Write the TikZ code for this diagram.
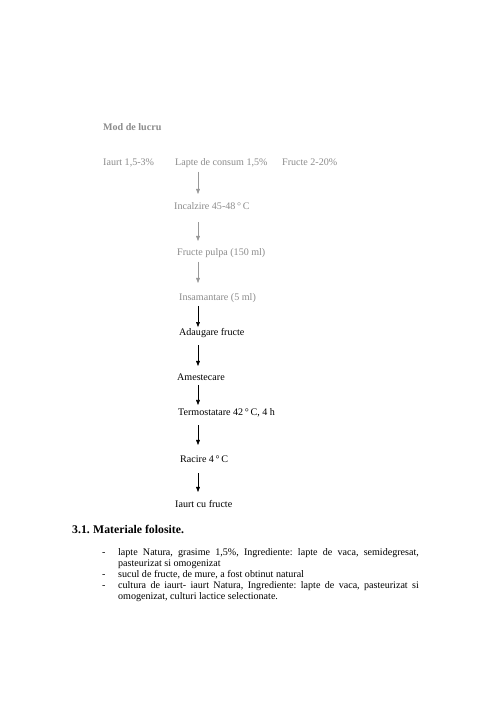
\documentclass[tikz,border=0pt]{standalone}
\usepackage{fontspec}
\setmainfont{Liberation Serif}
\usetikzlibrary{arrows.meta}
\frenchspacing
\begin{document}
\begin{tikzpicture}[x=1.1906pt,y=-1.1906pt,
  txt/.style={anchor=west,inner sep=0pt,text height=9pt,text depth=3pt,font=\fontsize{12}{14}\selectfont},
  blur/.style={txt,text=black!45},
  headfont/.style={font=\bfseries\fontsize{14}{16}\selectfont},
  arr/.style={line width=0.7pt,-{Triangle[length=6pt,width=4.5pt]}},
  blurarr/.style={arr,draw=black!40,fill=black!40},
  bullet/.style={txt}]
\useasboundingbox[fill=white] (0,0) rectangle (500,707);
\coordinate (axis) at (198,0);
% blurred upper part
\node[blur,font=\bfseries\fontsize{12}{14}\selectfont] (mod) at (103,128) {Mod de lucru};
\node[blur] (iaurt) at (103,163) {Iaurt 1,5-3\%};
\node[blur] (lapte) at (175,163) {Lapte de consum 1,5\%};
\node[blur] (fructe) at (282,163) {Fructe 2-20\%};
\node[blur] (incalz) at (174,207) {Incalzire 45-48\,°\,C};
\node[blur] (pulpa) at (177,253) {Fructe pulpa (150 ml)};
\node[blur] (insam) at (179,298) {Insamantare (5 ml)};
% clear lower part
\node[txt] (adaug) at (179,333) {Adaugare fructe};
\node[txt] (amest) at (177,378) {Amestecare};
\node[txt] (termo) at (178,413) {Termostatare 42\,°\,C, 4 h};
\node[txt] (racire) at (180,460) {Racire 4\,°\,C};
\node[txt] (final) at (175,505) {Iaurt cu fructe};
% arrows
\draw[blurarr,shorten <=10.7pt,shorten >=15.5pt] (lapte.center -| axis) -- (incalz.center -| axis);
\draw[blurarr,shorten <=17.9pt,shorten >=14.3pt] (incalz.center -| axis) -- (pulpa.center -| axis);
\draw[blurarr,shorten <=10.7pt,shorten >=17.9pt] (pulpa.center -| axis) -- (insam.center -| axis);
\draw[arr,shorten <=9.5pt,shorten >=7.1pt] (insam.center -| axis) -- (adaug.center -| axis);
\draw[arr,shorten <=14.3pt,shorten >=14.3pt] (adaug.center -| axis) -- (amest.center -| axis);
\draw[arr,shorten <=8.3pt,shorten >=9.5pt] (amest.center -| axis) -- (termo.center -| axis);
\draw[arr,shorten <=14.3pt,shorten >=17.9pt] (termo.center -| axis) -- (racire.center -| axis);
\draw[arr,shorten <=15.5pt,shorten >=15.5pt] (racire.center -| axis) -- (final.center -| axis);
% section heading
\node[txt,anchor=east,headfont] (num) at (90,531) {3.1.};
\node[txt,headfont] (head) at (93,531) {Materiale folosite.};
% bullet list
\node[bullet] (d1) at (102,553) {-};
\node[bullet] (l1) at (118,553) {\makebox[358pt][s]{lapte Natura, grasime 1,5\%, Ingrediente: lapte de vaca, semidegresat,}};
\node[bullet] (l2) at (118,564) {pasteurizat si omogenizat};
\node[bullet] (d2) at (102,575) {-};
\node[bullet] (l3) at (118,575) {sucul de fructe, de mure, a fost obtinut natural};
\node[bullet] (d3) at (102,586) {-};
\node[bullet] (l4) at (118,586) {\makebox[358pt][s]{cultura de iaurt- iaurt Natura, Ingrediente: lapte de vaca, pasteurizat si}};
\node[bullet] (l5) at (118,597) {omogenizat, culturi lactice selectionate.};
\end{tikzpicture}
\end{document}
